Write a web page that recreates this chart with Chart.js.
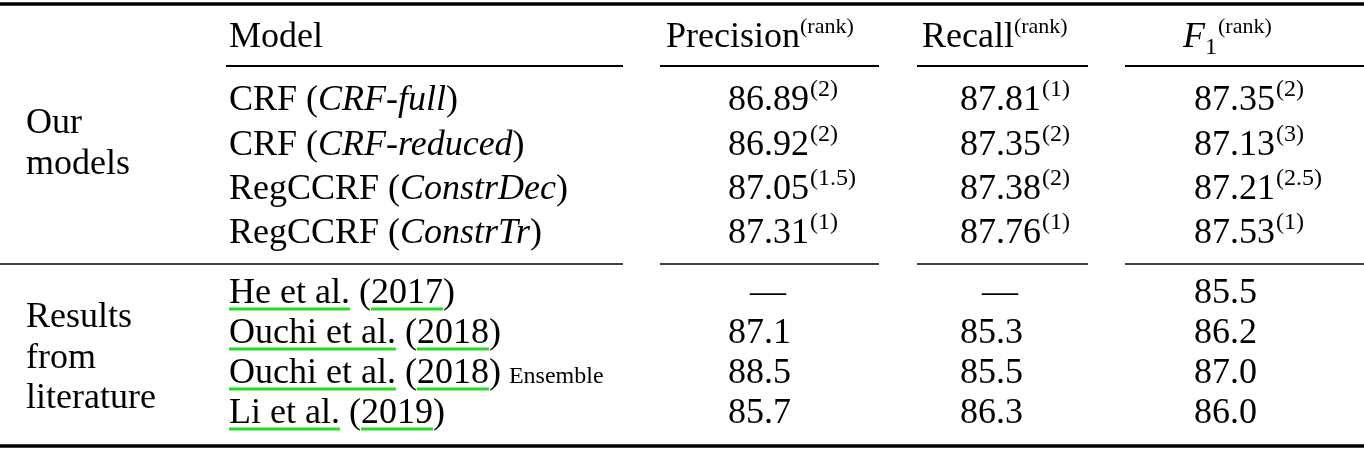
<!DOCTYPE html>
<html><head><meta charset="utf-8">
<script src="https://cdn.jsdelivr.net/npm/chart.js@4"></script>
<style>html,body{margin:0;padding:0;background:#fff}#w{width:1364px;height:450px}</style>
</head><body><div id="w"><canvas id="c" width="1364" height="450"></canvas></div>
<script>
const headers = ["Model", "Precision", "Recall", "F1"];
const models = [
  ["CRF (", "CRF-full", ")"],
  ["CRF (", "CRF-reduced", ")"],
  ["RegCCRF (", "ConstrDec", ")"],
  ["RegCCRF (", "ConstrTr", ")"]
];
const precision = ["86.89", "86.92", "87.05", "87.31"];
const precisionRank = ["(2)", "(2)", "(1.5)", "(1)"];
const recall = ["87.81", "87.35", "87.38", "87.76"];
const recallRank = ["(1)", "(2)", "(2)", "(1)"];
const f1 = ["87.35", "87.13", "87.21", "87.53"];
const f1Rank = ["(2)", "(3)", "(2.5)", "(1)"];
const litAuthors = ["He et al.", "Ouchi et al.", "Ouchi et al.", "Li et al."];
const litYears = ["2017", "2018", "2018", "2019"];
const litNotes = ["", "", "Ensemble", ""];
const litPrecision = ["—", "87.1", "88.5", "85.7"];
const litRecall = ["—", "85.3", "85.5", "86.3"];
const litF1 = ["85.5", "86.2", "87.0", "86.0"];

const rowY = [110, 155, 199, 243, 303, 343, 383, 423];
const colX = {group: 26, model: 229, p: 728, r: 960, f: 1194};
const F = "'Liberation Serif', 'DejaVu Serif', serif";

const cells = [];
models.forEach((m, i) => {
  cells.push({x: colX.model, y: rowY[i], kind: 'model', v: m});
  cells.push({x: colX.p, y: rowY[i], kind: 'num', v: precision[i], s: precisionRank[i]});
  cells.push({x: colX.r, y: rowY[i], kind: 'num', v: recall[i], s: recallRank[i]});
  cells.push({x: colX.f, y: rowY[i], kind: 'num', v: f1[i], s: f1Rank[i]});
});
litAuthors.forEach((a, i) => {
  const y = rowY[4 + i];
  cells.push({x: colX.model, y, kind: 'cite', v: a, yr: litYears[i], note: litNotes[i]});
  [[colX.p, litPrecision[i]], [colX.r, litRecall[i]], [colX.f, litF1[i]]].forEach(([x, v]) => {
    cells.push({x: v === '—' ? x + 22 : x, y, kind: 'num', v, s: ''});
  });
});

const tablePlugin = {
  id: 'table',
  afterDatasetsDraw(chart) {
    const ctx = chart.ctx, xs = chart.scales.x, ys = chart.scales.y;
    const X = v => xs.getPixelForValue(v), Y = v => ys.getPixelForValue(v);
    ctx.save();
    ctx.fillStyle = '#000'; ctx.strokeStyle = '#000';
    ctx.textBaseline = 'alphabetic'; ctx.textAlign = 'left';
    const line = (x1, x2, y, w) => { ctx.lineWidth = w; ctx.beginPath(); ctx.moveTo(X(x1), Y(y)); ctx.lineTo(X(x2), Y(y)); ctx.stroke(); };
    line(0, 1364, 4, 3.5);
    line(226, 623, 66, 1.8); line(660, 879, 66, 1.8); line(917, 1088, 66, 1.8); line(1125, 1364, 66, 1.8);
    line(0, 623, 264, 1.3); line(660, 879, 264, 1.3); line(917, 1088, 264, 1.3); line(1125, 1364, 264, 1.3);
    line(0, 1364, 446, 3.5);
    const txt = (t, x, y, font) => { ctx.font = font; ctx.fillText(t, x, y); return ctx.measureText(t).width; };
    const N = "36px " + F, I = "italic 36px " + F, S = "24px " + F, HS = "22px " + F;
    // headers
    const hy = Y(47);
    txt("Model", X(229), hy, N);
    let w = txt("Precision", X(666), hy, N); txt("(rank)", X(666) + w, hy - 14, HS);
    w = txt("Recall", X(922), hy, N); txt("(rank)", X(922) + w, hy - 14, HS);
    w = txt("F", X(1183), hy, I); txt("1", X(1183) + w, hy + 7, S); txt("(rank)", X(1183) + w + 13, hy - 14, HS);
    // groups
    [["Our", 133], ["models", 174], ["Results", 327], ["from", 368], ["literature", 408]].forEach(([t, y]) => txt(t, X(26), Y(y), N));
    // cells
    chart.data.datasets[0].data.forEach(c => {
      const x = X(c.x), y = Y(c.y);
      if (c.kind === 'model') {
        let o = txt(c.v[0], x, y, N); o += txt(c.v[1], x + o, y, I); txt(c.v[2], x + o, y, N);
      } else if (c.kind === 'num') {
        const o = txt(c.v, x, y, N); if (c.s) txt(c.s, x + o + 1, y - 14, S);
      } else {
        const aw = txt(c.v, x, y, N);
        let o = aw + txt(" (", x + aw, y, N);
        const yw = txt(c.yr, x + o, y, N);
        ctx.strokeStyle = '#22dd22'; ctx.lineWidth = 3;
        ctx.beginPath(); ctx.moveTo(x, y + 6); ctx.lineTo(x + aw, y + 6); ctx.moveTo(x + o, y + 6); ctx.lineTo(x + o + yw, y + 6); ctx.stroke();
        ctx.strokeStyle = '#000';
        o += yw + txt(")", x + o + yw, y, N);
        if (c.note) txt(c.note, x + o + 8, y, "24px " + F);
      }
    });
    ctx.restore();
  }
};

new Chart(document.getElementById('c'), {
  type: 'scatter',
  data: {datasets: [{data: cells, pointRadius: 0, pointHoverRadius: 0}]},
  options: {
    responsive: false, animation: false,
    layout: {padding: 0},
    plugins: {legend: {display: false}, tooltip: {enabled: false}},
    events: [],
    scales: {
      x: {type: 'linear', min: 0, max: 1364, display: false},
      y: {type: 'linear', min: 0, max: 450, reverse: true, display: false}
    }
  },
  plugins: [tablePlugin]
});
</script></body></html>
